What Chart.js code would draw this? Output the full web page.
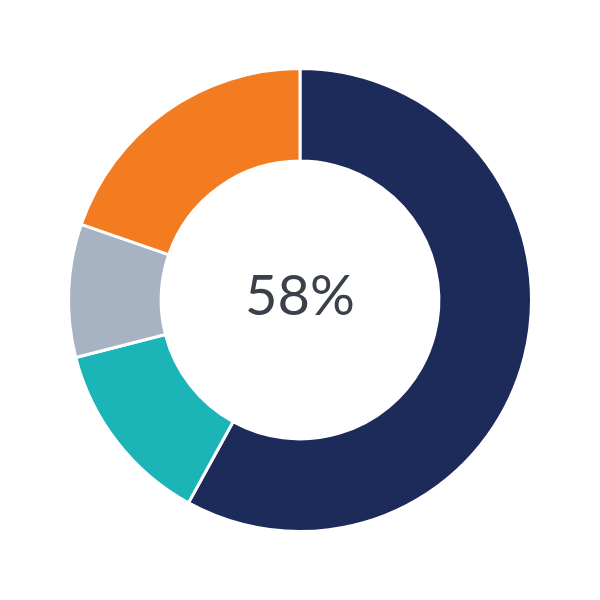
<!DOCTYPE html>
<html>
<head>
<meta charset="utf-8">
<script src="https://cdn.jsdelivr.net/npm/chart.js@4"></script>
<style>
  html, body { margin: 0; padding: 0; background: #fff; }
</style>
</head>
<body>
<canvas id="donut" width="600" height="600"></canvas>
<script>
const labels = ['Navy', 'Teal', 'Gray', 'Orange'];
const values = [58, 13, 9.3, 19.7];
const colors = ['#1c2b5a', '#1bb5b8', '#a7b3c2', '#f47c20'];
const centerLabel = '58%';

// draws the big percentage in the hole
const centerTextPlugin = {
    id: 'centerText',
    afterDraw(chart) {
        const c = chart.ctx;
        const area = chart.chartArea;
        const cx = (area.left + area.right) / 2;
        const cy = (area.top + area.bottom) / 2;
        c.save();
        c.font = '400 56px Lato, sans-serif';
        c.fillStyle = '#3a414b';
        c.textAlign = 'center';
        c.textBaseline = 'alphabetic';
        c.fillText(centerLabel, cx, cy + 15);
        c.restore();
    }
};

const ctx = document.getElementById('donut').getContext('2d');
new Chart(ctx, {
    type: 'doughnut',
    data: {
        labels: labels,
        datasets: [{
            data: values,
            backgroundColor: colors,
            borderColor: '#ffffff',
            borderWidth: 3
        }]
    },
    options: {
        responsive: false,
        animation: false,
        cutout: '60%',
        layout: { padding: 67 },
        plugins: {
            legend: { display: false },
            tooltip: { enabled: false }
        }
    },
    plugins: [centerTextPlugin]
});
</script>
</body>
</html>
